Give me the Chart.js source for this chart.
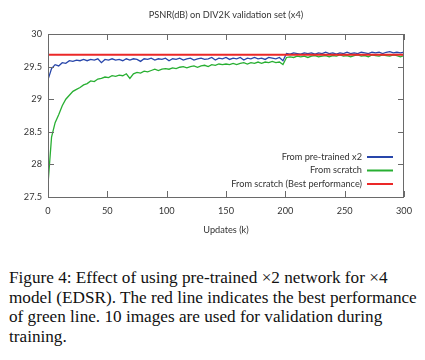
<!DOCTYPE html>
<html>
<head>
<meta charset="utf-8">
<script src="https://cdn.jsdelivr.net/npm/chart.js@4"></script>
<style>
  body { margin: 0; background: #fff; width: 425px; height: 360px; position: relative; overflow: hidden; }
  #wrap { position: absolute; left: 0; top: 0; width: 425px; height: 250px; }
  #caption {
    position: absolute; left: 9px; top: 268px;
    font-family: "Liberation Serif", "DejaVu Serif", serif;
    font-size: 17.2px; line-height: 19.7px; color: #111; white-space: nowrap;
  }
</style>
</head>
<body>
<div id="wrap"><canvas id="psnrChart" width="425" height="250"></canvas></div>
<div id="caption">Figure 4: Effect of using pre-trained &times;2 network for &times;4<br>model (EDSR). The red line indicates the best performance<br>of green line. 10 images are used for validation during<br>training.</div>
<script>
// Updates (k)
const updates = [0, 3, 6, 9, 12, 15, 18, 21, 24, 27, 30, 33, 36, 39, 42, 45, 48, 51, 54, 57,
  60, 63, 66, 69, 72, 75, 78, 81, 84, 87, 90, 93, 96, 99, 102, 105, 108, 111, 114, 117,
  120, 123, 126, 129, 132, 135, 138, 141, 144, 147, 150, 153, 156, 159, 162, 165, 168, 171, 174, 177,
  180, 183, 186, 189, 192, 195, 198, 201, 204, 207, 210, 213, 216, 219, 222, 225, 228, 231, 234, 237,
  240, 243, 246, 249, 252, 255, 258, 261, 264, 267, 270, 273, 276, 279, 282, 285, 288, 291, 294, 297, 300];

// PSNR, from pre-trained x2
const pretrained = [29.30, 29.47, 29.53, 29.51, 29.56, 29.55, 29.59, 29.58, 29.60, 29.59, 29.61, 29.59, 29.61, 29.60, 29.62, 29.56, 29.61, 29.60, 29.62, 29.60,
  29.61, 29.59, 29.62, 29.60, 29.62, 29.61, 29.58, 29.62, 29.61, 29.63, 29.60, 29.62, 29.61, 29.63, 29.59, 29.62, 29.61, 29.63, 29.60, 29.62,
  29.63, 29.60, 29.62, 29.63, 29.61, 29.62, 29.64, 29.60, 29.63, 29.62, 29.64, 29.61, 29.63, 29.62, 29.64, 29.60, 29.63, 29.62, 29.64, 29.62,
  29.63, 29.61, 29.64, 29.63, 29.62, 29.64, 29.59, 29.70, 29.69, 29.71, 29.70, 29.69, 29.71, 29.70, 29.71, 29.69, 29.71, 29.70, 29.72, 29.70,
  29.71, 29.69, 29.71, 29.70, 29.72, 29.70, 29.71, 29.70, 29.72, 29.71, 29.70, 29.72, 29.71, 29.72, 29.70, 29.72, 29.73, 29.71, 29.72, 29.71, 29.72];

// PSNR, from scratch
const scratch = [27.70, 28.42, 28.64, 28.76, 28.90, 29.00, 29.06, 29.12, 29.15, 29.18, 29.22, 29.24, 29.28, 29.27, 29.31, 29.32, 29.34, 29.33, 29.36, 29.35,
  29.37, 29.36, 29.39, 29.32, 29.39, 29.41, 29.40, 29.43, 29.42, 29.44, 29.46, 29.44, 29.46, 29.47, 29.46, 29.48, 29.47, 29.49, 29.50, 29.48,
  29.50, 29.51, 29.49, 29.51, 29.52, 29.50, 29.53, 29.52, 29.54, 29.53, 29.54, 29.53, 29.55, 29.53, 29.55, 29.56, 29.54, 29.56, 29.55, 29.57,
  29.55, 29.57, 29.56, 29.58, 29.56, 29.57, 29.53, 29.64, 29.65, 29.64, 29.66, 29.65, 29.66, 29.64, 29.66, 29.67, 29.65, 29.66, 29.67, 29.65,
  29.67, 29.66, 29.68, 29.66, 29.67, 29.65, 29.67, 29.68, 29.66, 29.67, 29.65, 29.68, 29.67, 29.66, 29.68, 29.67, 29.66, 29.68, 29.67, 29.65, 29.67];

// best PSNR reached from scratch
const bestScratch = 29.68;

const xTicks = [0, 50, 100, 150, 200, 250, 300];
const yTicks = [27.5, 28, 28.5, 29, 29.5, 30];

const chartTitle = 'PSNR(dB) on DIV2K validation set (x4)';

const FONT = 'Lato, "Noto Sans", sans-serif';
const FSIZE = 9.2;
const TEXT = '#333';
const FRAME = '#6a6a6a';

const pts = ys => updates.map((x, i) => ({ x: x, y: ys[i] }));

// box with inward ticks on all four sides, title over the plot, legend inside the plot
const framePlugin = {
  id: 'frame',
  afterDraw(chart) {
    const { ctx, chartArea: a, scales: { x, y } } = chart;
    ctx.save();
    ctx.strokeStyle = FRAME;
    ctx.lineWidth = 1;
    ctx.strokeRect(a.left + 0.5, a.top + 0.5, a.right - a.left - 1, a.bottom - a.top);
    ctx.beginPath();
    x.ticks.forEach(t => {
      const px = Math.round(x.getPixelForValue(t.value)) + 0.5;
      ctx.moveTo(px, a.bottom); ctx.lineTo(px, a.bottom - 6);
      ctx.moveTo(px, a.top); ctx.lineTo(px, a.top + 6);
    });
    y.ticks.forEach(t => {
      const py = Math.round(y.getPixelForValue(t.value)) + 0.5;
      ctx.moveTo(a.left, py); ctx.lineTo(a.left + 6, py);
      ctx.moveTo(a.right, py); ctx.lineTo(a.right - 6, py);
    });
    ctx.stroke();

    ctx.font = FSIZE + 'px ' + FONT;
    ctx.fillStyle = TEXT;
    ctx.textBaseline = 'middle';
    ctx.textAlign = 'center';
    ctx.fillText(chartTitle, (a.left + a.right) / 2, a.top - 19);

    // legend
    ctx.textAlign = 'right';
    chart.data.datasets.forEach((ds, i) => {
      const ry = a.bottom - 40 + i * 13.5;
      ctx.fillStyle = TEXT;
      ctx.fillText(ds.label, a.right - 42, ry);
      ctx.strokeStyle = ds.borderColor;
      ctx.lineWidth = 2;
      ctx.beginPath();
      ctx.moveTo(a.right - 37, ry); ctx.lineTo(a.right - 11, ry);
      ctx.stroke();
    });
    ctx.restore();
  }
};

new Chart(document.getElementById('psnrChart').getContext('2d'), {
  type: 'line',
  data: {
    datasets: [{
      label: 'From pre-trained x2',
      data: pts(pretrained),
      borderColor: 'rgb(40, 70, 170)',
      borderWidth: 1.3,
      order: 1
    }, {
      label: 'From scratch',
      data: pts(scratch),
      borderColor: 'rgb(40, 175, 50)',
      borderWidth: 1.3,
      order: 2
    }, {
      label: 'From scratch (Best performance)',
      data: updates.map(x => ({ x: x, y: bestScratch })),
      borderColor: 'rgb(235, 40, 40)',
      borderWidth: 2,
      order: 0
    }]
  },
  options: {
    responsive: false,
    animation: false,
    events: [],
    elements: { point: { radius: 0 }, line: { tension: 0 } },
    layout: { padding: { left: 0, right: 21, top: 34, bottom: 0 } },
    plugins: {
      legend: { display: false },
      tooltip: { enabled: false },
      title: { display: false }
    },
    scales: {
      x: {
        type: 'linear',
        min: 0, max: 300,
        afterBuildTicks: s => { s.ticks = xTicks.map(v => ({ value: v })); },
        afterFit: s => { s.height = 53; },
        grid: { display: false, drawTicks: false },
        border: { display: false },
        ticks: { color: TEXT, font: { family: FONT, size: FSIZE }, padding: 9, maxRotation: 0 },
        title: {
          display: true, text: 'Updates (k)', color: TEXT,
          font: { family: FONT, size: FSIZE }, padding: { top: 4, bottom: 14 }
        }
      },
      y: {
        min: 27.5, max: 30,
        afterBuildTicks: s => { s.ticks = yTicks.map(v => ({ value: v })); },
        afterFit: s => { s.width = 48; },
        grid: { display: false, drawTicks: false },
        border: { display: false },
        ticks: {
          color: TEXT, font: { family: FONT, size: FSIZE }, padding: 6,
          callback: v => String(v)
        }
      }
    }
  },
  plugins: [framePlugin]
});
</script>
</body>
</html>
